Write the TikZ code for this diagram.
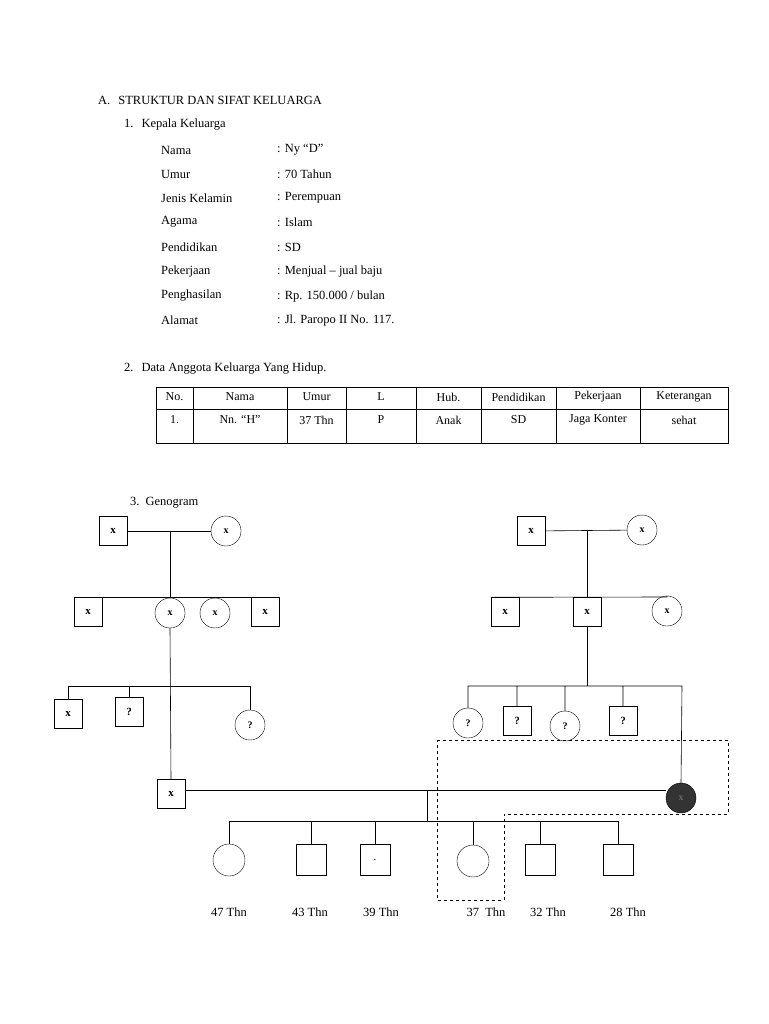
\documentclass[tikz,border=0pt]{standalone}
\usepackage{fontspec}
\setmainfont{Liberation Serif}
\begin{document}
\begin{tikzpicture}[x=1pt,y=-1pt,font=\fontsize{12.5}{14}\selectfont,
 sq/.style={draw,minimum width=28pt,minimum height=29pt,inner sep=0pt,font=\fontsize{11}{12}\selectfont\bfseries},
 ci/.style={draw,circle,minimum size=30pt,inner sep=0pt,font=\fontsize{10}{12}\selectfont\bfseries},
 tx/.style={anchor=west,inner sep=0pt},
 ln/.style={line width=0.6pt}]
\useasboundingbox (0,0) rectangle (768,1024);
\node[tx] (h) at (98,100) {A.\hspace{8pt}STRUKTUR DAN SIFAT KELUARGA};
\node[tx] (h1) at (124,125) {1.\hspace{8pt}Kepala Keluarga};
\foreach \l/\v/\y [count=\i] in {Nama/{Ny ``D''}/150,Umur/{70 Tahun}/174,Jenis Kelamin/Perempuan/198,Agama/Islam/222,Pendidikan/SD/247,Pekerjaan/{Menjual -- jual baju}/271,Penghasilan/{Rp. 150.000 / bulan}/296,Alamat/{Jl. Paropo II No. 117.}/320}{
 \node[tx] (l\i) at (161,\y) {\l};
 \node[tx] (v\i) at (277,\y) {: \v};}
\node[tx] (h2) at (124,369) {2.\hspace{8pt}Data Anggota Keluarga Yang Hidup.};
% table
\draw[ln] (156,387) rectangle (728,443) (156,409)--(728,409);
\foreach \x in {193,287,346,416,481,556,640}{\draw[ln] (\x,387)--(\x,443);}
\foreach \a/\b/\t/\u in {156/193/No./1.,193/287/Nama/{Nn. ``H''},287/346/Umur/37 Thn,346/416/L/P/P,416/481/Hub./Anak,481/556/Pendidikan/SD,556/640/Pekerjaan/Jaga Konter,640/728/Keterangan/sehat}{
 \node[font=\fontsize{12}{14}\selectfont] at ({(\a+\b)/2},397) {\t};
 \node[font=\fontsize{12}{14}\selectfont] at ({(\a+\b)/2},420) {\u};}
\node[tx] (h3) at (130,503) {3.\hspace{6pt}Genogram};
% left family
\node[sq] (lgf) at (113,531) {x};
\node[ci] (lgm) at (226,531) {x};
\draw[ln] (lgf)--(lgm);
\coordinate (lm) at (170,531);
\node[sq] (ls1) at (88,612) {x};
\node[ci] (ls2) at (170,613) {x};
\node[ci] (ls3) at (215,613) {x};
\node[sq] (ls4) at (265,612) {x};
\draw[ln] (lm)--(170,597);
\draw[ln] (ls1.north west)--(ls4.north east);
\node[sq] (lc1) at (68,714) {x};
\node[sq] (lc2) at (129,712) {?};
\node[ci] (lc3) at (250,725) {?};
\node[sq] (fa) at (171,794) {x};
\draw[ln] (ls2.south)--(fa.north);
\draw[ln] (lc1.north)--(68,686)--(250,686)--(lc3.north) (lc2.north)--(129,686);
% right family
\node[sq] (rgf) at (531,531) {x};
\node[ci] (rgm) at (642,530) {x};
\draw[ln] (rgf)--(rgm);
\node[sq] (rs1) at (505,612) {x};
\node[sq] (rs2) at (587,612) {x};
\node[ci] (rs3) at (667,611) {x};
\draw[ln] (587,531)--(rs2.north);
\draw[ln] (rs1.north west)--(667,597)--(rs3.north);
\node[ci] (rc1) at (468,723) {?};
\node[sq] (rc2) at (517,721) {?};
\node[ci] (rc3) at (565,726) {?};
\node[sq] (rc4) at (623,721) {?};
\node[ci,fill=black!80,draw=black,text=black!60] (mo) at (681,798) {x};
\draw[ln] (rs2.south)--(587,686);
\draw[ln] (rc1.north)--(468,686)--(682,686)--(mo.north) (rc2.north)--(517,686) (rc3.north)--(565,686) (rc4.north)--(623,686);
% marriage & children
\draw[ln] (fa.east|-0,790)--(mo.west|-0,790);
\coordinate (cm) at (427,790);
\draw[ln] (cm)--(427,821);
\node[ci,minimum size=32pt] (k1) at (229,860) {};
\node[sq,minimum width=30pt,minimum height=31pt] (k2) at (311,860) {};
\node[sq,minimum width=30pt,minimum height=31pt] (k3) at (375,860) {\normalfont.};
\node[ci,minimum size=32pt] (k4) at (473,861) {};
\node[sq,minimum width=30pt,minimum height=31pt] (k5) at (540,860) {};
\node[sq,minimum width=30pt,minimum height=31pt] (k6) at (618,860) {};
\draw[ln] (k1.north)--(229,821)--(618,821)--(k6.north);
\foreach \k in {k2,k3,k4,k5}{\draw[ln] (\k.north)--(\k.north|-0,821);}
\foreach \x/\t in {229/47 Thn,310/43 Thn,381/39 Thn,486/37\ \ Thn,548/32 Thn,628/28 Thn}{\node at (\x,912) {\t};}
\draw[ln,dashed] (437,740)--(728,740)--(728,814)--(504,814)--(504,900)--(437,900)--cycle;
\end{tikzpicture}
\end{document}
